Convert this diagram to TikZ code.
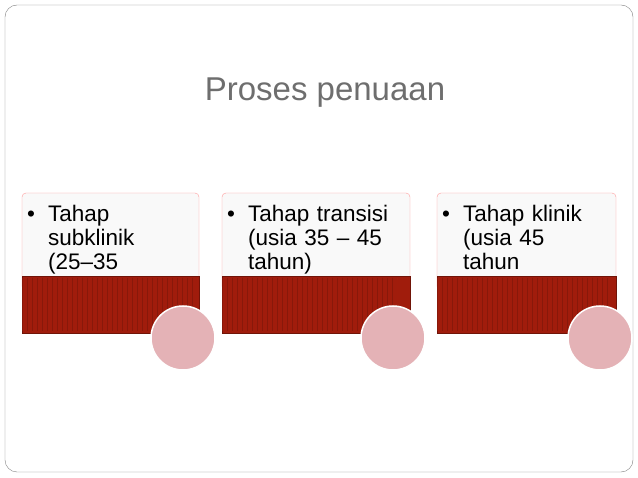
\documentclass[tikz,border=0pt]{standalone}
\usepackage{fontspec}
\setmainfont{Liberation Sans}
\definecolor{boxred}{RGB}{160,28,12}
\definecolor{pinkc}{RGB}{228,178,182}
\definecolor{titleg}{RGB}{110,110,110}
\tikzset{
  whitepart/.style={fill=white!95!gray, draw=red!40!white, rounded corners=4pt},
  redpart/.style={fill=boxred, draw=boxred!70!black},
  disc/.style={circle, fill=pinkc, draw=white, line width=1.5pt, minimum size=64pt, inner sep=0pt},
  label/.style={anchor=north west, align=left, font=\fontsize{22.5}{24}\selectfont, text width=185pt, inner sep=0pt},
}
\begin{document}
\begin{tikzpicture}[x=1pt,y=-1pt]
\useasboundingbox (0,0) rectangle (638,478);
\draw[gray, rounded corners=12pt] (5,5) rectangle (633,472);
\node[text=titleg, font=\fontsize{33}{35}\selectfont] (title) at (325,93) {Proses penuaan};
\foreach \i/\l/\r/\cx/\t in {1/22/199/183/{Tahap\\subklinik\\(25--35},2/222/410/393/{Tahap transisi\\(usia 35 -- 45\\tahun)},3/437/616/600/{Tahap klinik\\(usia 45\\tahun}}{
  \fill[whitepart] (\l,193) rectangle (\r,290);
  \node[label] (t\i) at (\l+5,205) {\makebox[21pt][l]{•}\parbox[t]{165pt}{\t}};
  \fill[redpart] (\l,276) rectangle (\r,333);
  \foreach \k in {0,5,...,170} {\draw[boxred!85!black, line width=0.3pt] ({\l+\k},278) -- ({\l+\k},331);}
  \node[disc] (c\i) at (\cx,338) {};
}
\end{tikzpicture}
\end{document}
